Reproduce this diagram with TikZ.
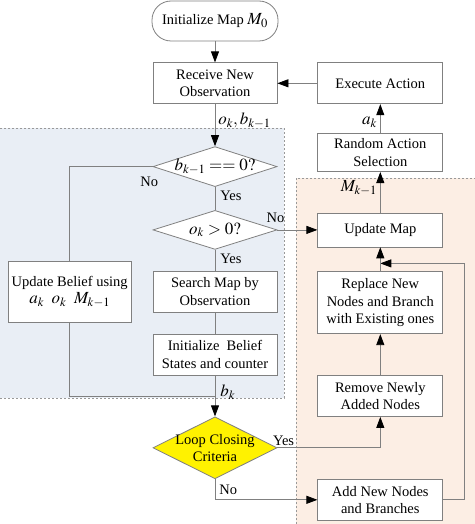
\documentclass[tikz,border=0pt]{standalone}
\usepackage{mathptmx}
\usepackage{fontspec}
\setmainfont{Liberation Serif}
\usetikzlibrary{arrows.meta,positioning,shapes.geometric,calc}
\definecolor{ink}{HTML}{808080}
\definecolor{beliefzone}{HTML}{E9EEF5}
\definecolor{mapzone}{HTML}{FCEEE4}
\definecolor{loopy}{HTML}{FFF200}
\tikzset{
  >={Triangle[length=11pt,width=8pt,color=black]},
  every node/.style={font=\fontsize{14.5}{17.5}\selectfont,text=black},
  box/.style={draw=ink,line width=0.8pt,fill=white,minimum width=124pt,minimum height=41pt,align=center,inner sep=2pt},
  term/.style={box,rounded corners=19pt,minimum height=40pt},
  decide/.style={diamond,draw=ink,line width=0.8pt,fill=white,minimum width=124pt,minimum height=40pt,inner xsep=-10pt,inner ysep=-6pt,aspect=3,align=center},
  arrow/.style={->,line width=0.8pt,draw=ink},
  flow/.style={line width=0.8pt,draw=ink},
  zone/.style={draw=ink!80,dash pattern=on 2pt off 2pt,line width=0.7pt},
  tag/.style={inner sep=1pt},
}
\newcommand{\mbig}[1]{{\fontsize{17}{17}\selectfont$#1$}}

\begin{document}
\begin{tikzpicture}[x=1pt,y=-1pt]
\useasboundingbox (0,0) rectangle (474,524);

% shaded zones
\filldraw[zone,fill=beliefzone] (-2,128) rectangle (284,398);
\filldraw[zone,fill=mapzone] (296,178) rectangle (478,528);

% main column
\node[term,minimum width=126pt] (init) at (215,21) {Initialize Map \mbig{M_0}};
\node[box,below=21pt of init] (recv) {Receive New\\Observation};
\node[box,minimum width=125pt,right=40pt of recv] (exec) {Execute Action};
\node[box,minimum width=125pt,minimum height=38pt,below=29pt of exec] (rand) {Random Action\\Selection};
\node[decide,below=42pt of recv] (d1) {\mbig{b_{k-1} == 0?}};
\node[decide,minimum height=39pt,below=23pt of d1] (d2) {\mbig{o_k > 0?}};
\node[box,below=21pt of d2] (search) {Search Map by\\Observation};
\node[box,below=21pt of search] (initb) {Initialize~ Belief\\States and counter};
\node[decide,fill=loopy,aspect=2,minimum height=62pt,below=41pt of initb] (loop) {Loop Closing\\Criteria};
\node[box,minimum width=123pt,minimum height=61pt,left=21pt of search] (belief) {Update Belief using\\\mbig{a_k\;\; o_k\;\; M_{k-1}}};
\coordinate (join) at ($(initb.south)+(0,21)$);

% map column
\node[box,minimum width=125pt,minimum height=34pt,right=40pt of d2] (upd) {Update Map};
\node[box,minimum width=125pt,minimum height=62pt,below=24pt of upd] (replace) {Replace New\\Nodes and Branch\\with Existing ones};
\node[box,minimum width=125pt,below=41pt of replace] (remove) {Remove Newly\\Added Nodes};
\node[box,minimum width=125pt,below=62pt of remove] (addn) {Add New Nodes\\and Branches};
\coordinate (hook) at ($(replace.north)!0.33!(upd.south)$);

\draw[arrow] (init) -- (recv);
\draw[arrow] (exec) -- (recv);
\draw[arrow] (rand) -- node[tag,left=2pt,pos=0.38] {\mbig{a_k}} (exec);
\draw[arrow] (recv) -- node[tag,right=2pt,pos=0.4] {\mbig{o_k ,b_{k-1}}} (d1);
\draw[flow] (d1.west) -| node[tag,pos=0.02,below=9pt] {No} (belief.north);
\draw[flow] (d1) -- node[tag,right=4pt,pos=0.4] {Yes} (d2);
\draw[flow] (d2) -- node[tag,right=4pt,pos=0.45] {Yes} (search);
\draw[flow] (search) -- (initb);
\draw[flow] (belief.south) |- (join);
\draw[arrow] (initb) -- node[tag,right=4pt,pos=0.41] {\mbig{b_k}} (loop);
\draw[arrow] (d2.east) -- node[tag,pos=0,above=6pt,xshift=-2pt] {No} (upd.west);
\draw[arrow] (loop.east) -| node[tag,pos=0.03,above=1pt] {Yes} (remove.south);
\draw[arrow] (loop.south) |- node[tag,pos=0.25,right=3pt] {No} (addn.west);
\draw[arrow] (addn.east) -- ($(addn.east)+(21,0)$) |- (hook);
\draw[arrow] (remove) -- (replace);
\draw[arrow] (replace) -- (upd);
\draw[arrow] (upd) -- node[tag,left=2pt,pos=0.6] {\mbig{M_{k-1}}} (rand);

\end{tikzpicture}
\end{document}
